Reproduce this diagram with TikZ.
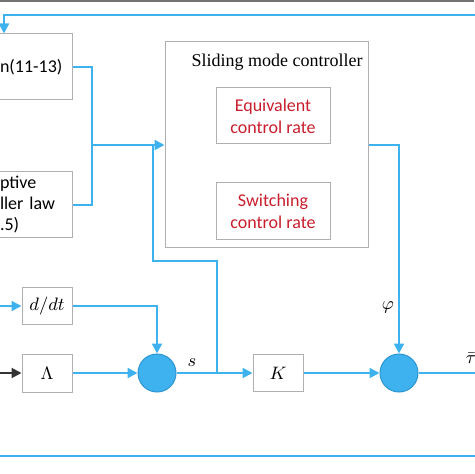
\documentclass[tikz,border=0pt]{standalone}
\usepackage{fontspec}
\setmainfont{Liberation Serif}
\newfontfamily\calfont{Carlito}
\usepackage{xcolor}
\usetikzlibrary{arrows.meta, positioning, calc}
\definecolor{flowblue}{RGB}{62,178,238}
\definecolor{sumedge}{RGB}{45,150,210}
\definecolor{ratered}{RGB}{200,30,45}
\definecolor{boxgray}{RGB}{175,175,175}

\begin{document}
\begin{tikzpicture}[x=0.5pt,y=-0.5pt,font=\fontsize{9}{11}\selectfont,
  box/.style={rectangle,draw=boxgray,line width=0.5pt,inner sep=0pt},
  sumnode/.style={circle,fill=flowblue,draw=sumedge,line width=0.5pt,minimum size=19pt,inner sep=0pt},
  flow/.style={draw=flowblue,line width=1pt},
  flowarrow/.style={-{Triangle[length=5pt,width=5pt]}}]
\useasboundingbox (0,0) rectangle (474,474);
\fill[black!55] (0,0) rectangle (474,2.5);

% blocks
\node[box,minimum width=37pt,minimum height=33pt,text width=35pt,align=left,
  font=\calfont\fontsize{9}{10.5}\selectfont] (obs) at (35,67) {n(11-13)};
\node[box,minimum width=37pt,minimum height=33pt,text width=35pt,align=left,
  font=\calfont\fontsize{9}{10.5}\selectfont] (adp) at (35,205) {ptive\\ller law\\.5)};
\node[box,minimum width=101.5pt,minimum height=103pt] (smc) at (266.5,145) {};
\node (title) at (277,62) {Sliding mode controller};
\node[box,minimum width=57pt,minimum height=28pt,align=center,text=ratered,
  font=\calfont\fontsize{9}{11}\selectfont] (eq) at (273,116) {Equivalent\\control rate};
\node[box,minimum width=57pt,minimum height=28.5pt,align=center,text=ratered,
  font=\calfont\fontsize{9}{11}\selectfont] (sw) at (273,211.5) {Switching\\control rate};
\node[box,minimum width=25pt,minimum height=18.5pt] (ddt) at (47,306) {$d/dt$};
\node[box,minimum width=25pt,minimum height=19pt] (lam) at (47,373) {$\Lambda$};
\node[sumnode] (sum1) at (157,373) {};
\node[box,minimum width=25pt,minimum height=18.5pt] (K) at (278,373) {$K$};
\node[sumnode] (sum2) at (399,373) {};

% free ends and bends
\coordinate (fbR) at (480,15);
\coordinate (fbL) at (4,15);
\coordinate (botL) at (-5,456);
\coordinate (botR) at (480,456);
\coordinate (j1) at (92,145);
\coordinate (j3) at (153,145);
\coordinate (j2) at (217,373);
\coordinate (fbk) at (217,261);
\coordinate (inD) at (-5,306);
\coordinate (inL) at (-5,373);
\coordinate (outR) at (480,373);

\draw[flow,flowarrow] (fbR) -- (fbL) -- (fbL |- obs.north);
\draw[flow] (botL) -- (botR);
\draw[flow] (obs.east) -| (j1);
\draw[flow] (adp.east) -| (j1);
\draw[flow,flowarrow] (j1) -- (smc.west);
\draw[flow] (j2) -- (fbk) -| (j3);
\draw[flow,flowarrow] (smc.east) -| (sum2.north);
\draw[flow,flowarrow] (inD) -- (ddt.west);
\draw[draw=black!80,line width=1pt,flowarrow] (inL) -- (lam.west);
\draw[flow,flowarrow] (ddt.east) -| (sum1.north);
\draw[flow,flowarrow] (lam.east) -- (sum1.west);
\draw[flow,flowarrow] (sum1.east) -- (K.west);
\draw[flow,flowarrow] (K.east) -- (sum2.west);
\draw[flow] (sum2.east) -- (outR);

% signal labels
\node (s) at (192,363) {$s$};
\node (phi) at (388,307) {$\varphi$};
\node (tau) at (471,358) {$\bar{\tau}$};
\end{tikzpicture}
\end{document}
